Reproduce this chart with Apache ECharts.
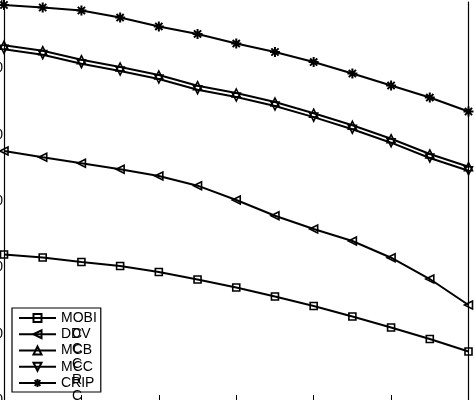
<!DOCTYPE html>
<html>
<head>
<meta charset="utf-8">
<script src="https://cdn.jsdelivr.net/npm/echarts@6/dist/echarts.min.js"></script>
<style>
  html, body { margin: 0; padding: 0; background: #fff; }
  #chart { width: 474px; height: 400px; }
</style>
</head>
<body>
<div id="chart"></div>
<script>
// x positions (tick labels are cut off in the picture)
var xCats = ['0', '1', '2', '3', '4', '5', '6', '7', '8', '9', '10', '11', '12'];

// values (y axis 0..60)
var mobi = [21.93, 21.48, 20.80, 20.20, 19.30, 18.17, 16.96, 15.60, 14.17, 12.59, 10.93, 9.20, 7.31];
var ddv  = [37.54, 36.59, 35.68, 34.78, 33.77, 32.31, 30.15, 27.78, 25.78, 23.97, 21.45, 18.24, 14.32];
var mcb  = [53.47, 52.66, 51.30, 50.20, 48.99, 47.38, 46.28, 44.92, 43.24, 41.41, 39.39, 37.09, 35.17];
var mcc  = [52.87, 52.06, 50.70, 49.60, 48.39, 46.78, 45.68, 44.32, 42.64, 40.81, 38.79, 36.49, 34.57];
var crip = [59.55, 59.17, 58.72, 57.66, 56.31, 55.18, 53.74, 52.46, 50.95, 49.22, 47.41, 45.60, 43.49];

var FONT = 'Liberation Sans';
var star = 'path://M0,-5L0,5M-5,0L5,0M-3.6,-3.6L3.6,3.6M-3.6,3.6L3.6,-3.6';

function mkSeries(name, data, symbol, size, rotate, bw) {
  return {
    name: name,
    type: 'line',
    data: data,
    symbol: symbol,
    symbolSize: size,
    symbolRotate: rotate || 0,
    showAllSymbol: true,
    animation: false,
    lineStyle: { color: '#000', width: 2 },
    itemStyle: { color: 'rgba(0,0,0,0)', borderColor: '#000', borderWidth: bw || 1.6 },
    emphasis: { disabled: true }
  };
}

var frameAxis = {
  axisLine: { show: true, lineStyle: { color: '#000', width: 1.2 } },
  splitLine: { show: false }
};

const myChart = echarts.init(document.getElementById('chart'));
const option = {
  backgroundColor: '#fff',
  grid: { left: 4, right: 5.5, top: 2, bottom: 0, containLabel: false, outerBoundsMode: 'none' },
  xAxis: [
    Object.assign({
      type: 'category', data: xCats, boundaryGap: false, position: 'bottom',
      axisTick: { inside: true, length: 5, interval: 1, lineStyle: { color: '#000' } },
      axisLabel: { show: false }
    }, frameAxis),
    Object.assign({
      type: 'category', data: xCats, boundaryGap: false, position: 'top',
      axisTick: { inside: true, length: 5, interval: 1, lineStyle: { color: '#000' } },
      axisLabel: { show: false }
    }, frameAxis)
  ],
  yAxis: [
    Object.assign({
      type: 'value', min: 0, max: 60, interval: 10, position: 'left',
      axisTick: { inside: true, length: 4, lineStyle: { color: '#000' } },
      axisLabel: { margin: 1, color: '#000', fontFamily: FONT, fontSize: 14 }
    }, frameAxis),
    Object.assign({
      type: 'value', min: 0, max: 60, interval: 10, position: 'right',
      axisTick: { inside: true, length: 4, lineStyle: { color: '#000' } },
      axisLabel: { show: false }
    }, frameAxis)
  ],
  legend: {
    orient: 'vertical',
    left: 12, top: 308,
    padding: [3, 4, 2, 6],
    itemWidth: 37, itemHeight: 10, itemGap: 2.25,
    backgroundColor: '#fff',
    borderColor: '#000', borderWidth: 1.2, borderRadius: 0,
    textStyle: { color: '#000', fontFamily: FONT, fontSize: 14, lineHeight: 14 },
    data: ['MOBI', 'DDV', 'MCB', 'MCC', 'CRIP']
  },
  graphic: [
    { type: 'text', left: 72, top: 327, z: 100, style: { text: 'C', fill: '#000', font: '14px "Liberation Sans"' } },
    { type: 'text', left: 72, top: 342, z: 100, style: { text: 'C', fill: '#000', font: '14px "Liberation Sans"' } },
    { type: 'text', left: 72, top: 357, z: 100, style: { text: 'C', fill: '#000', font: '14px "Liberation Sans"' } },
    { type: 'text', left: 72, top: 373, z: 100, style: { text: 'R', fill: '#000', font: '14px "Liberation Sans"' } },
    { type: 'text', left: 72, top: 389, z: 100, style: { text: 'C', fill: '#000', font: '14px "Liberation Sans"' } }
  ],
  series: [
    mkSeries('MOBI', mobi, 'rect', 7),
    mkSeries('DDV', ddv, 'triangle', 8, 90),
    mkSeries('MCB', mcb, 'triangle', 8),
    mkSeries('MCC', mcc, 'triangle', 8, 180),
    mkSeries('CRIP', crip, star, 10, 0, 2)
  ]
};
myChart.setOption(option);
</script>
</body>
</html>
